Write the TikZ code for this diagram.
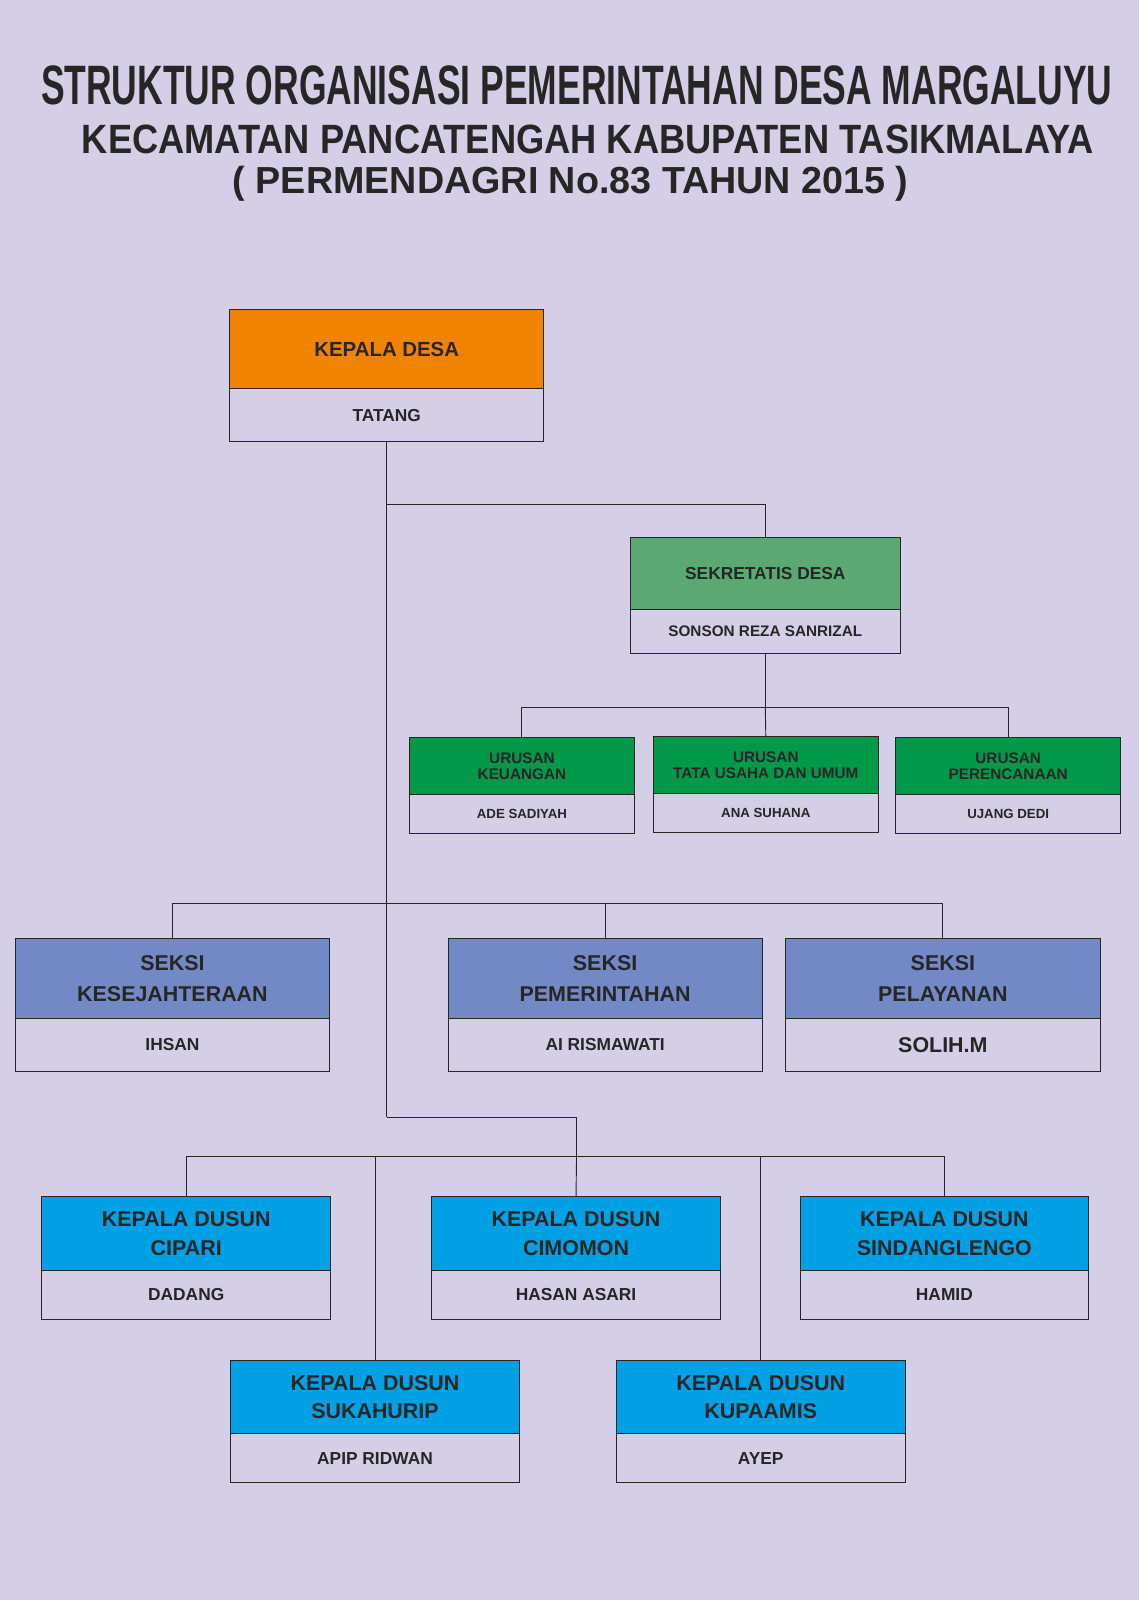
\documentclass[tikz,border=0pt]{standalone}
\usepackage{fontspec}
\setmainfont{Liberation Sans}
\usepackage{graphicx}
\begin{document}
\begin{tikzpicture}[x=1pt,y=-1pt,
 bx/.style={draw=black!85,line width=0.9pt,inner sep=0pt,align=center,font=\bfseries,text=black!85},
 ln/.style={draw=black!85,line width=0.9pt}]
\definecolor{bg}{HTML}{D4CFE6}
\definecolor{oran}{HTML}{F08300}
\definecolor{sek}{HTML}{5BA872}
\definecolor{uru}{HTML}{00994A}
\definecolor{sks}{HTML}{7389C6}
\definecolor{dus}{HTML}{00A0E4}
\fill[bg] (0,0) rectangle (1116,1568);
\useasboundingbox (0,0) rectangle (1116,1568);
\node[anchor=base west,inner sep=0pt,text=black!85] (t1) at (40,102) {\resizebox{1050pt}{38pt}{\bfseries STRUKTUR ORGANISASI PEMERINTAHAN DESA MARGALUYU}};
\node[anchor=base west,inner sep=0pt,text=black!85] (t2) at (80,150) {\resizebox{992pt}{28pt}{\bfseries KECAMATAN PANCATENGAH KABUPATEN TASIKMALAYA}};
\node[anchor=base west,inner sep=0pt,text=black!85] (t3) at (228,190) {\resizebox{662pt}{!}{\bfseries ( PERMENDAGRI No.83 TAHUN 2015 )}};
% box macro: name, x1,y1,x2,ysplit,y2, color, title, name text, fonts
\newcommand{\obox}[9]{%
 \node[bx,fill=#7,minimum width=#4-#2,minimum height=#5-#3,font=\bfseries#8] (#1t) at ({(#2+#4)/2},{(#3+#5)/2}) {\pgfkeysvalueof{/obox/t}};
}
\newcommand{\ubox}[8]{% name x1 y1 x2 ys y2 color fontsize
 \path (0,0);}
\tikzset{pair/.code args={#1}{}}
% Kepala desa
\node[bx,fill=oran,minimum width=308,minimum height=78,font=\bfseries\fontsize{20}{22}\selectfont] (kd) at (379,342) {KEPALA DESA};
\node[bx,fill=bg,minimum width=308,minimum height=52,font=\bfseries\fontsize{17}{20}\selectfont] (kdn) at (379,407) {TATANG};
% Sekretaris
\node[bx,fill=sek,minimum width=264,minimum height=70,font=\bfseries\fontsize{17}{20}\selectfont] (sd) at (750,562) {SEKRETATIS DESA};
\node[bx,fill=bg,minimum width=264,minimum height=43,font=\bfseries\fontsize{15}{18}\selectfont] (sdn) at (750,618.5) {SONSON REZA SANRIZAL};
% Urusan
\tikzset{ut/.style={bx,fill=uru,minimum width=221,minimum height=56,font=\bfseries\fontsize{15}{16}\selectfont},
 un/.style={bx,fill=bg,minimum width=221,minimum height=38,font=\bfseries\fontsize{13}{15}\selectfont}}
\node[ut] (u1) at (511.5,751) {URUSAN\\KEUANGAN};
\node[un] (u1n) at (511.5,798) {ADE SADIYAH};
\node[ut] (u2) at (750.5,750) {URUSAN\\TATA USAHA DAN UMUM};
\node[un] (u2n) at (750.5,797) {ANA SUHANA};
\node[ut] (u3) at (988,751) {URUSAN\\PERENCANAAN};
\node[un] (u3n) at (988,797.5) {UJANG DEDI};
% Seksi
\tikzset{st/.style={bx,fill=sks,minimum width=308,minimum height=78,font=\bfseries\fontsize{21}{30}\selectfont},
 sn/.style={bx,fill=bg,minimum width=308,minimum height=52,font=\bfseries\fontsize{17}{20}\selectfont}}
\node[st] (s1) at (169,959) {SEKSI\\KESEJAHTERAAN};
\node[sn] (s1n) at (169,1024) {IHSAN};
\node[st] (s2) at (593,959) {SEKSI\\PEMERINTAHAN};
\node[sn] (s2n) at (593,1024) {AI RISMAWATI};
\node[st] (s3) at (924,959) {SEKSI\\PELAYANAN};
\node[sn,font=\bfseries\fontsize{21}{24}\selectfont] (s3n) at (924,1024) {SOLIH.M};
% Dusun
\tikzset{dt/.style={bx,fill=dus,minimum width=283,minimum height=72,font=\bfseries\fontsize{21}{28}\selectfont},
 dn/.style={bx,fill=bg,minimum width=283,minimum height=48,font=\bfseries\fontsize{17}{20}\selectfont}}
\node[dt] (d1) at (182.5,1209) {KEPALA DUSUN\\CIPARI};
\node[dn] (d1n) at (182.5,1269) {DADANG};
\node[dt] (d2) at (564.5,1209) {KEPALA DUSUN\\CIMOMON};
\node[dn] (d2n) at (564.5,1269) {HASAN ASARI};
\node[dt] (d3) at (925.5,1209) {KEPALA DUSUN\\SINDANGLENGO};
\node[dn] (d3n) at (925.5,1269) {HAMID};
\node[dt] (d4) at (367.5,1369) {KEPALA DUSUN\\SUKAHURIP};
\node[dn] (d4n) at (367.5,1429) {APIP RIDWAN};
\node[dt] (d5) at (745.5,1369) {KEPALA DUSUN\\KUPAAMIS};
\node[dn] (d5n) at (745.5,1429) {AYEP};
% connectors
\coordinate (j1) at (379,494);
\coordinate (j2) at (379,885);
\coordinate (j3) at (379,1095);
\draw[ln] (kdn.south) -- (j3);
\draw[ln] (j1) -| (sd.north);
\coordinate (j4) at (750,693);
\draw[ln] (sdn.south) -- (j4);
\draw[ln] (j4) -| (u1.north);
\draw[ln] (j4) -| (u3.north);
\draw[ln] (j4) -- (u2.north);
\draw[ln] (j2) -| (s1.north);
\draw[ln] (j2) -| (s3.north);
\draw[ln] (s2.north) |- (j2);
\coordinate (j5) at (565,1133);
\draw[ln] (j3) -| (j5);
\draw[ln] (j5) -- (d2.north);
\draw[ln] (j5) -| (d1.north);
\draw[ln] (j5) -| (d3.north);
\draw[ln] (d4.north) -- (d4.north |- j5);
\draw[ln] (d5.north) -- (d5.north |- j5);
\end{tikzpicture}
\end{document}
